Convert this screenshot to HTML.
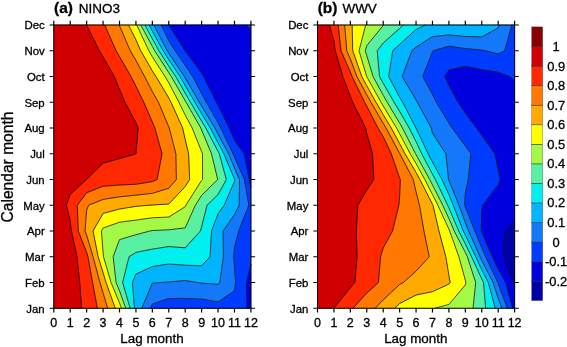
<!DOCTYPE html>
<html><head><meta charset="utf-8"><title>Lag correlation</title>
<style>
html,body{margin:0;padding:0;background:#fff;}
svg{display:block;}
text{font-family:"Liberation Sans",Arial,Helvetica,sans-serif;fill:#000;stroke:#000;stroke-width:0.3px;}
.xt{font-size:12.5px;}
.yt{font-size:11.4px;}
.cl{font-size:12.9px;}
.ti{font-size:13.5px;}
.tb{font-size:15.5px;font-weight:bold;}
.yl{font-size:15.6px;}
.lb{font-size:13.4px;}
</style></head><body>
<svg width="567" height="347" viewBox="0 0 567 347">
<rect width="567" height="347" fill="#fff"/>
<g><path d="M246.82,308.25 250.90,308.25 250.90,282.50 250.90,264.25 246.56,282.50 246.82,308.25ZM249.23,179.50 250.90,187.34 250.90,179.50 250.90,153.75 250.90,128.00 250.90,102.25 250.90,76.50 250.90,50.75 250.90,29.38 246.17,25.00 234.48,25.00 218.05,25.00 201.62,25.00 185.20,25.00 168.78,25.00 168.66,25.00 168.78,25.24 185.06,50.75 185.20,50.95 201.62,73.34 203.64,76.50 216.33,102.25 218.05,105.27 229.14,128.00 234.48,140.15 244.02,153.75 249.23,179.50Z" fill="#0000de" stroke="#0000de" stroke-width="0.6" fill-rule="evenodd"/>
<path d="M150.58,308.25 152.35,308.25 168.78,308.25 185.20,308.25 201.62,308.25 218.05,308.25 234.48,308.25 246.82,308.25 246.56,282.50 250.90,264.25 250.90,256.75 250.90,231.00 250.90,205.25 250.90,187.34 249.23,179.50 244.02,153.75 234.48,140.15 229.14,128.00 218.05,105.27 216.33,102.25 203.64,76.50 201.62,73.34 185.20,50.95 185.06,50.75 168.78,25.24 168.66,25.00 161.22,25.00 168.78,40.68 175.20,50.75 185.20,65.11 192.75,76.50 201.62,93.43 206.47,102.25 218.05,122.61 220.68,128.00 233.12,153.75 234.48,156.99 244.38,179.50 248.85,205.25 238.69,231.00 234.48,247.67 233.75,256.75 234.48,266.85 235.65,282.50 234.48,290.77 218.05,301.94 201.62,299.03 185.20,298.38 168.78,298.44 152.35,304.03 150.58,308.25ZM246.17,25.00 250.90,29.38 250.90,25.00 246.17,25.00Z" fill="#003cff" stroke="#003cff" stroke-width="0.6" fill-rule="evenodd"/>
<path d="M141.84,308.25 150.58,308.25 152.35,304.03 168.78,298.44 185.20,298.38 201.62,299.03 218.05,301.94 234.48,290.77 235.65,282.50 234.48,266.85 233.75,256.75 234.48,247.67 238.69,231.00 248.85,205.25 244.38,179.50 234.48,156.99 233.12,153.75 220.68,128.00 218.05,122.61 206.47,102.25 201.62,93.43 192.75,76.50 185.20,65.11 175.20,50.75 168.78,40.68 161.22,25.00 153.79,25.00 167.31,50.75 168.78,53.03 184.35,76.50 185.20,77.99 199.37,102.25 201.62,106.08 214.90,128.00 218.05,134.00 228.51,153.75 234.48,168.02 239.52,179.50 239.23,205.25 234.48,214.56 223.13,231.00 223.36,256.75 219.81,282.50 218.05,284.38 201.62,283.14 197.66,282.50 185.20,280.55 168.78,281.93 160.50,282.50 152.35,283.15 141.84,308.25Z" fill="#1478fa" stroke="#1478fa" stroke-width="0.6" fill-rule="evenodd"/>
<path d="M134.51,308.25 135.93,308.25 141.84,308.25 152.35,283.15 160.50,282.50 168.78,281.93 185.20,280.55 197.66,282.50 201.62,283.14 218.05,284.38 219.81,282.50 223.36,256.75 223.13,231.00 234.48,214.56 239.23,205.25 239.52,179.50 234.48,168.02 228.51,153.75 218.05,134.00 214.90,128.00 201.62,106.08 199.37,102.25 185.20,77.99 184.35,76.50 168.78,53.03 167.31,50.75 153.79,25.00 152.35,25.00 149.04,25.00 152.35,31.16 163.12,50.75 168.78,59.57 180.01,76.50 185.20,85.58 194.94,102.25 201.62,113.63 210.33,128.00 218.05,142.72 223.89,153.75 234.48,179.05 234.67,179.50 234.48,181.42 224.17,205.25 218.05,213.74 211.55,231.00 210.06,256.75 201.62,265.76 185.20,265.20 168.78,264.00 152.35,266.54 135.93,274.09 132.37,282.50 134.51,308.25Z" fill="#00b4ff" stroke="#00b4ff" stroke-width="0.6" fill-rule="evenodd"/>
<path d="M130.15,308.25 134.51,308.25 132.37,282.50 135.93,274.09 152.35,266.54 168.78,264.00 185.20,265.20 201.62,265.76 210.06,256.75 211.55,231.00 218.05,213.74 224.17,205.25 234.48,181.42 234.67,179.50 234.48,179.05 223.89,153.75 218.05,142.72 210.33,128.00 201.62,113.63 194.94,102.25 185.20,85.58 180.01,76.50 168.78,59.57 163.12,50.75 152.35,31.16 149.04,25.00 144.93,25.00 152.35,38.80 158.92,50.75 168.78,66.11 175.67,76.50 185.20,93.17 190.51,102.25 201.62,121.17 205.76,128.00 218.05,151.43 219.28,153.75 226.35,179.50 218.05,194.51 207.02,205.25 201.62,226.71 200.40,231.00 185.20,247.84 168.78,246.54 152.35,249.12 135.93,252.41 129.06,256.75 122.63,282.50 130.15,308.25Z" fill="#00f0f0" stroke="#00f0f0" stroke-width="0.6" fill-rule="evenodd"/>
<path d="M116.09,282.50 119.50,290.74 125.78,308.25 130.15,308.25 122.63,282.50 129.06,256.75 135.93,252.41 152.35,249.12 168.78,246.54 185.20,247.84 200.40,231.00 201.62,226.71 207.02,205.25 218.05,194.51 226.35,179.50 219.28,153.75 218.05,151.43 205.76,128.00 201.62,121.17 190.51,102.25 185.20,93.17 175.67,76.50 168.78,66.11 158.92,50.75 152.35,38.80 144.93,25.00 140.83,25.00 152.35,46.44 154.72,50.75 168.78,72.66 171.32,76.50 185.20,100.75 186.07,102.25 200.80,128.00 201.62,130.05 211.48,153.75 217.73,179.50 201.62,195.41 195.37,205.25 185.20,227.83 168.78,229.80 152.35,230.53 149.90,231.00 135.93,234.71 119.50,239.63 113.15,256.75 116.09,282.50Z" fill="#58f0a2" stroke="#58f0a2" stroke-width="0.6" fill-rule="evenodd"/>
<path d="M111.06,282.50 119.50,302.90 121.42,308.25 125.78,308.25 119.50,290.74 116.09,282.50 113.15,256.75 119.50,239.63 135.93,234.71 149.90,231.00 152.35,230.53 168.78,229.80 185.20,227.83 195.37,205.25 201.62,195.41 217.73,179.50 211.48,153.75 201.62,130.05 200.80,128.00 186.07,102.25 185.20,100.75 171.32,76.50 168.78,72.66 154.72,50.75 152.35,46.44 140.83,25.00 136.72,25.00 148.82,50.75 152.35,56.86 165.04,76.50 168.78,82.76 178.89,102.25 185.20,115.08 192.18,128.00 201.62,151.59 202.52,153.75 202.57,179.50 201.62,180.43 185.85,205.25 185.20,206.69 168.78,217.05 152.35,217.77 135.93,220.11 119.50,222.21 103.08,228.04 101.38,231.00 103.08,252.20 103.49,256.75 111.06,282.50Z" fill="#a4f846" stroke="#a4f846" stroke-width="0.6" fill-rule="evenodd"/>
<path d="M115.25,308.25 119.50,308.25 121.42,308.25 119.50,302.90 111.06,282.50 103.49,256.75 103.08,252.20 101.38,231.00 103.08,228.04 119.50,222.21 135.93,220.11 152.35,217.77 168.78,217.05 185.20,206.69 185.85,205.25 201.62,180.43 202.57,179.50 202.52,153.75 201.62,151.59 192.18,128.00 185.20,115.08 178.89,102.25 168.78,82.76 165.04,76.50 152.35,56.86 148.82,50.75 136.72,25.00 135.93,25.00 128.50,25.00 135.93,39.87 140.71,50.75 152.35,70.88 155.98,76.50 168.78,97.92 171.02,102.25 182.63,128.00 185.20,139.58 188.60,153.75 189.67,179.50 185.20,186.54 168.78,204.06 152.35,205.03 149.18,205.25 135.93,206.33 119.50,209.06 103.08,213.39 93.00,231.00 98.17,256.75 103.08,272.71 106.03,282.50 115.25,308.25Z" fill="#ffff00" stroke="#ffff00" stroke-width="0.6" fill-rule="evenodd"/>
<path d="M99.99,282.50 103.08,292.97 107.65,308.25 115.25,308.25 106.03,282.50 103.08,272.71 98.17,256.75 93.00,231.00 103.08,213.39 119.50,209.06 135.93,206.33 149.18,205.25 152.35,205.03 168.78,204.06 185.20,186.54 189.67,179.50 188.60,153.75 185.20,139.58 182.63,128.00 171.02,102.25 168.78,97.92 155.98,76.50 152.35,70.88 140.71,50.75 135.93,39.87 128.50,25.00 119.50,25.00 119.16,25.00 119.50,25.75 130.25,50.75 135.93,60.48 144.62,76.50 152.35,91.61 158.45,102.25 168.78,126.86 169.22,128.00 175.87,153.75 176.34,179.50 168.78,188.26 152.35,193.32 135.93,195.18 119.50,196.84 103.08,199.41 88.54,205.25 86.65,210.22 85.01,231.00 86.65,235.19 93.04,256.75 99.99,282.50Z" fill="#ffaa00" stroke="#ffaa00" stroke-width="0.6" fill-rule="evenodd"/>
<path d="M97.38,308.25 103.08,308.25 107.65,308.25 103.08,292.97 99.99,282.50 93.04,256.75 86.65,235.19 85.01,231.00 86.65,210.22 88.54,205.25 103.08,199.41 119.50,196.84 135.93,195.18 152.35,193.32 168.78,188.26 176.34,179.50 175.87,153.75 169.22,128.00 168.78,126.86 158.45,102.25 152.35,91.61 144.62,76.50 135.93,60.48 130.25,50.75 119.50,25.75 119.16,25.00 104.73,25.00 116.07,50.75 119.50,56.57 131.03,76.50 135.93,86.35 143.75,102.25 152.35,122.04 154.85,128.00 162.02,153.75 157.09,179.50 152.35,181.62 135.93,184.26 119.50,185.00 103.08,186.24 86.65,192.73 77.29,205.25 78.22,231.00 86.65,252.49 87.91,256.75 92.54,282.50 97.38,308.25Z" fill="#ff7800" stroke="#ff7800" stroke-width="0.6" fill-rule="evenodd"/>
<path d="M81.71,308.25 86.65,308.25 97.38,308.25 92.54,282.50 87.91,256.75 86.65,252.49 78.22,231.00 77.29,205.25 86.65,192.73 103.08,186.24 119.50,185.00 135.93,184.26 152.35,181.62 157.09,179.50 162.02,153.75 154.85,128.00 152.35,122.04 143.75,102.25 135.93,86.35 131.03,76.50 119.50,56.57 116.07,50.75 104.73,25.00 103.08,25.00 86.65,25.00 99.36,50.75 103.08,56.78 114.30,76.50 119.50,89.23 125.01,102.25 135.93,122.64 138.08,128.00 135.98,153.75 135.93,153.82 119.50,158.57 103.08,163.23 86.65,179.36 86.50,179.50 70.22,194.49 66.40,205.25 70.22,221.13 71.44,231.00 77.05,256.75 79.70,282.50 81.71,308.25Z" fill="#ff2800" stroke="#ff2800" stroke-width="0.6" fill-rule="evenodd"/>
<path d="M53.80,308.25 70.22,308.25 81.71,308.25 79.70,282.50 77.05,256.75 71.44,231.00 70.22,221.13 66.40,205.25 70.22,194.49 86.50,179.50 86.65,179.36 103.08,163.23 119.50,158.57 135.93,153.82 135.98,153.75 138.08,128.00 135.93,122.64 125.01,102.25 119.50,89.23 114.30,76.50 103.08,56.78 99.36,50.75 86.65,25.00 86.65,25.00 70.22,25.00 53.80,25.00 53.80,50.75 53.80,76.50 53.80,102.25 53.80,128.00 53.80,153.75 53.80,179.50 53.80,205.25 53.80,231.00 53.80,256.75 53.80,282.50 53.80,308.25Z" fill="#d00000" stroke="#d00000" stroke-width="0.6" fill-rule="evenodd"/>
<path d="M246.82,308.25 246.56,282.50 250.90,264.25M250.90,187.34 249.23,179.50 244.02,153.75 234.48,140.15 229.14,128.00 218.05,105.27 216.33,102.25 203.64,76.50 201.62,73.34 185.20,50.95 185.06,50.75 168.78,25.24 168.66,25.00M246.17,25.00 250.90,29.38M150.58,308.25 152.35,304.03 168.78,298.44 185.20,298.38 201.62,299.03 218.05,301.94 234.48,290.77 235.65,282.50 234.48,266.85 233.75,256.75 234.48,247.67 238.69,231.00 248.85,205.25 244.38,179.50 234.48,156.99 233.12,153.75 220.68,128.00 218.05,122.61 206.47,102.25 201.62,93.43 192.75,76.50 185.20,65.11 175.20,50.75 168.78,40.68 161.22,25.00M141.84,308.25 152.35,283.15 160.50,282.50 168.78,281.93 185.20,280.55 197.66,282.50 201.62,283.14 218.05,284.38 219.81,282.50 223.36,256.75 223.13,231.00 234.48,214.56 239.23,205.25 239.52,179.50 234.48,168.02 228.51,153.75 218.05,134.00 214.90,128.00 201.62,106.08 199.37,102.25 185.20,77.99 184.35,76.50 168.78,53.03 167.31,50.75 153.79,25.00M134.51,308.25 132.37,282.50 135.93,274.09 152.35,266.54 168.78,264.00 185.20,265.20 201.62,265.76 210.06,256.75 211.55,231.00 218.05,213.74 224.17,205.25 234.48,181.42 234.67,179.50 234.48,179.05 223.89,153.75 218.05,142.72 210.33,128.00 201.62,113.63 194.94,102.25 185.20,85.58 180.01,76.50 168.78,59.57 163.12,50.75 152.35,31.16 149.04,25.00M130.15,308.25 122.63,282.50 129.06,256.75 135.93,252.41 152.35,249.12 168.78,246.54 185.20,247.84 200.40,231.00 201.62,226.71 207.02,205.25 218.05,194.51 226.35,179.50 219.28,153.75 218.05,151.43 205.76,128.00 201.62,121.17 190.51,102.25 185.20,93.17 175.67,76.50 168.78,66.11 158.92,50.75 152.35,38.80 144.93,25.00M125.78,308.25 119.50,290.74 116.09,282.50 113.15,256.75 119.50,239.63 135.93,234.71 149.90,231.00 152.35,230.53 168.78,229.80 185.20,227.83 195.37,205.25 201.62,195.41 217.73,179.50 211.48,153.75 201.62,130.05 200.80,128.00 186.07,102.25 185.20,100.75 171.32,76.50 168.78,72.66 154.72,50.75 152.35,46.44 140.83,25.00M121.42,308.25 119.50,302.90 111.06,282.50 103.49,256.75 103.08,252.20 101.38,231.00 103.08,228.04 119.50,222.21 135.93,220.11 152.35,217.77 168.78,217.05 185.20,206.69 185.85,205.25 201.62,180.43 202.57,179.50 202.52,153.75 201.62,151.59 192.18,128.00 185.20,115.08 178.89,102.25 168.78,82.76 165.04,76.50 152.35,56.86 148.82,50.75 136.72,25.00M115.25,308.25 106.03,282.50 103.08,272.71 98.17,256.75 93.00,231.00 103.08,213.39 119.50,209.06 135.93,206.33 149.18,205.25 152.35,205.03 168.78,204.06 185.20,186.54 189.67,179.50 188.60,153.75 185.20,139.58 182.63,128.00 171.02,102.25 168.78,97.92 155.98,76.50 152.35,70.88 140.71,50.75 135.93,39.87 128.50,25.00M107.65,308.25 103.08,292.97 99.99,282.50 93.04,256.75 86.65,235.19 85.01,231.00 86.65,210.22 88.54,205.25 103.08,199.41 119.50,196.84 135.93,195.18 152.35,193.32 168.78,188.26 176.34,179.50 175.87,153.75 169.22,128.00 168.78,126.86 158.45,102.25 152.35,91.61 144.62,76.50 135.93,60.48 130.25,50.75 119.50,25.75 119.16,25.00M97.38,308.25 92.54,282.50 87.91,256.75 86.65,252.49 78.22,231.00 77.29,205.25 86.65,192.73 103.08,186.24 119.50,185.00 135.93,184.26 152.35,181.62 157.09,179.50 162.02,153.75 154.85,128.00 152.35,122.04 143.75,102.25 135.93,86.35 131.03,76.50 119.50,56.57 116.07,50.75 104.73,25.00M81.71,308.25 79.70,282.50 77.05,256.75 71.44,231.00 70.22,221.13 66.40,205.25 70.22,194.49 86.50,179.50 86.65,179.36 103.08,163.23 119.50,158.57 135.93,153.82 135.98,153.75 138.08,128.00 135.93,122.64 125.01,102.25 119.50,89.23 114.30,76.50 103.08,56.78 99.36,50.75 86.65,25.00" fill="none" stroke="#0a0a0a" stroke-width="0.75" stroke-linejoin="round"/></g>
<g><path d="M513.68,282.50 514.60,286.40 514.60,282.50 514.60,256.75 514.60,231.00 514.60,221.44 504.64,231.00 503.54,256.75 513.68,282.50Z" fill="#0000a8" stroke="#0000a8" stroke-width="0.6" fill-rule="evenodd"/>
<path d="M512.66,308.25 514.60,308.25 514.60,286.40 513.68,282.50 503.54,256.75 504.64,231.00 514.60,221.44 514.60,205.25 514.60,179.50 514.60,153.75 514.60,128.00 514.60,102.25 514.60,80.67 510.06,76.50 498.18,72.28 481.75,69.54 465.33,66.16 448.90,70.06 444.62,76.50 448.90,85.49 457.93,102.25 465.33,112.98 476.42,128.00 481.75,135.47 494.73,153.75 498.18,169.41 500.13,179.50 498.18,184.64 482.56,205.25 481.75,209.93 481.25,231.00 481.75,232.24 492.39,256.75 498.18,269.16 505.63,282.50 512.66,308.25Z" fill="#0000de" stroke="#0000de" stroke-width="0.6" fill-rule="evenodd"/>
<path d="M497.82,282.50 498.18,283.59 507.27,308.25 512.66,308.25 505.63,282.50 498.18,269.16 492.39,256.75 481.75,232.24 481.25,231.00 481.75,209.93 482.56,205.25 498.18,184.64 500.13,179.50 498.18,169.41 494.73,153.75 481.75,135.47 476.42,128.00 465.33,112.98 457.93,102.25 448.90,85.49 444.62,76.50 448.90,70.06 465.33,66.16 481.75,69.54 498.18,72.28 510.06,76.50 514.60,80.67 514.60,76.50 514.60,50.75 514.60,25.00 511.85,25.00 504.75,50.75 498.18,53.94 485.52,50.75 481.75,50.07 465.33,48.59 448.90,46.20 433.20,50.75 432.48,51.81 422.72,76.50 432.48,94.34 436.33,102.25 448.90,123.10 452.26,128.00 465.33,145.80 470.90,153.75 468.20,179.50 465.33,192.93 464.73,205.25 465.33,206.88 474.96,231.00 481.75,247.73 485.67,256.75 497.82,282.50Z" fill="#003cff" stroke="#003cff" stroke-width="0.6" fill-rule="evenodd"/>
<path d="M493.07,282.50 498.18,298.18 501.89,308.25 507.27,308.25 498.18,283.59 497.82,282.50 485.67,256.75 481.75,247.73 474.96,231.00 465.33,206.88 464.73,205.25 465.33,192.93 468.20,179.50 470.90,153.75 465.33,145.80 452.26,128.00 448.90,123.10 436.33,102.25 432.48,94.34 422.72,76.50 432.48,51.81 433.20,50.75 448.90,46.20 465.33,48.59 481.75,50.07 485.52,50.75 498.18,53.94 504.75,50.75 511.85,25.00 499.47,25.00 498.18,27.88 481.75,37.00 465.33,36.47 448.90,34.93 432.48,36.66 416.05,47.19 411.93,50.75 402.14,76.50 416.05,100.01 417.31,102.25 431.32,128.00 432.48,133.06 445.87,153.75 448.54,179.50 448.90,180.29 458.97,205.25 465.33,222.61 468.68,231.00 479.99,256.75 481.75,260.59 493.07,282.50Z" fill="#1478fa" stroke="#1478fa" stroke-width="0.6" fill-rule="evenodd"/>
<path d="M495.21,308.25 498.18,308.25 501.89,308.25 498.18,298.18 493.07,282.50 481.75,260.59 479.99,256.75 468.68,231.00 465.33,222.61 458.97,205.25 448.90,180.29 448.54,179.50 445.87,153.75 432.48,133.06 431.32,128.00 417.31,102.25 416.05,100.01 402.14,76.50 411.93,50.75 416.05,47.19 432.48,36.66 448.90,34.93 465.33,36.47 481.75,37.00 498.18,27.88 499.47,25.00 498.18,25.00 481.75,25.00 465.33,25.00 448.90,25.00 432.48,25.00 425.47,25.00 416.05,29.48 399.62,44.37 392.76,50.75 388.63,76.50 399.62,97.28 402.63,102.25 415.99,128.00 416.05,128.12 428.08,153.75 432.48,162.11 441.96,179.50 448.90,194.56 453.22,205.25 463.22,231.00 465.33,235.07 475.78,256.75 481.75,269.79 488.32,282.50 495.21,308.25Z" fill="#00b4ff" stroke="#00b4ff" stroke-width="0.6" fill-rule="evenodd"/>
<path d="M485.64,308.25 495.21,308.25 488.32,282.50 481.75,269.79 475.78,256.75 465.33,235.07 463.22,231.00 453.22,205.25 448.90,194.56 441.96,179.50 432.48,162.11 428.08,153.75 416.05,128.12 415.99,128.00 402.63,102.25 399.62,97.28 388.63,76.50 392.76,50.75 399.62,44.37 416.05,29.48 425.47,25.00 416.05,25.00 403.30,25.00 399.62,28.44 383.20,43.01 377.21,50.75 379.52,76.50 383.20,83.31 394.15,102.25 399.62,111.47 409.22,128.00 416.05,141.64 421.73,153.75 432.48,174.18 435.38,179.50 447.67,205.25 448.90,207.91 458.72,231.00 465.33,243.80 471.57,256.75 481.75,278.98 483.57,282.50 485.64,308.25Z" fill="#00f0f0" stroke="#00f0f0" stroke-width="0.6" fill-rule="evenodd"/>
<path d="M473.05,308.25 481.75,308.25 485.64,308.25 483.57,282.50 481.75,278.98 471.57,256.75 465.33,243.80 458.72,231.00 448.90,207.91 447.67,205.25 435.38,179.50 432.48,174.18 421.73,153.75 416.05,141.64 409.22,128.00 399.62,111.47 394.15,102.25 383.20,83.31 379.52,76.50 377.21,50.75 383.20,43.01 399.62,28.44 403.30,25.00 399.62,25.00 383.82,25.00 383.20,25.54 366.77,45.64 365.34,50.75 366.77,55.63 373.07,76.50 383.20,95.27 387.24,102.25 399.62,123.12 402.46,128.00 415.50,153.75 416.05,154.68 429.73,179.50 432.48,184.91 442.78,205.25 448.90,218.51 454.21,231.00 465.33,252.53 467.36,256.75 475.67,282.50 473.05,308.25Z" fill="#58f0a2" stroke="#58f0a2" stroke-width="0.6" fill-rule="evenodd"/>
<path d="M434.60,308.25 448.90,308.25 465.33,308.25 473.05,308.25 475.67,282.50 467.36,256.75 465.33,252.53 454.21,231.00 448.90,218.51 442.78,205.25 432.48,184.91 429.73,179.50 416.05,154.68 415.50,153.75 402.46,128.00 399.62,123.12 387.24,102.25 383.20,95.27 373.07,76.50 366.77,55.63 365.34,50.75 366.77,45.64 383.20,25.54 383.82,25.00 383.20,25.00 366.77,25.00 365.70,25.00 359.03,50.75 366.65,76.50 366.77,76.73 381.09,102.25 383.20,105.88 396.56,128.00 399.62,133.72 410.27,153.75 416.05,163.59 424.82,179.50 432.48,194.57 437.88,205.25 448.90,229.11 449.70,231.00 458.84,256.75 465.33,280.24 465.82,282.50 465.33,284.95 448.90,304.48 434.60,308.25Z" fill="#a4f846" stroke="#a4f846" stroke-width="0.6" fill-rule="evenodd"/>
<path d="M394.81,308.25 399.62,308.25 416.05,308.25 432.48,308.25 434.60,308.25 448.90,304.48 465.33,284.95 465.82,282.50 465.33,280.24 458.84,256.75 449.70,231.00 448.90,229.11 437.88,205.25 432.48,194.57 424.82,179.50 416.05,163.59 410.27,153.75 399.62,133.72 396.56,128.00 383.20,105.88 381.09,102.25 366.77,76.73 366.65,76.50 359.03,50.75 365.70,25.00 352.16,25.00 352.73,50.75 361.77,76.50 366.77,85.78 376.01,102.25 383.20,114.61 391.29,128.00 399.62,143.56 405.04,153.75 416.05,172.51 419.90,179.50 432.48,204.23 432.99,205.25 438.93,231.00 445.81,256.75 448.90,275.39 450.17,282.50 448.90,284.12 432.48,291.64 416.05,295.04 399.62,303.48 394.81,308.25Z" fill="#ffff00" stroke="#ffff00" stroke-width="0.6" fill-rule="evenodd"/>
<path d="M375.00,308.25 383.20,308.25 394.81,308.25 399.62,303.48 416.05,295.04 432.48,291.64 448.90,284.12 450.17,282.50 448.90,275.39 445.81,256.75 438.93,231.00 432.99,205.25 432.48,204.23 419.90,179.50 416.05,172.51 405.04,153.75 399.62,143.56 391.29,128.00 383.20,114.61 376.01,102.25 366.77,85.78 361.77,76.50 352.73,50.75 352.16,25.00 350.35,25.00 344.68,25.00 346.76,50.75 350.35,58.92 356.90,76.50 366.77,94.83 370.94,102.25 383.20,123.33 386.02,128.00 399.62,153.40 399.81,153.75 413.27,179.50 416.05,191.75 419.49,205.25 423.94,231.00 429.26,256.75 416.05,271.09 403.40,282.50 399.62,284.42 383.20,299.92 375.00,308.25Z" fill="#ffaa00" stroke="#ffaa00" stroke-width="0.6" fill-rule="evenodd"/>
<path d="M352.82,308.25 366.77,308.25 375.00,308.25 383.20,299.92 399.62,284.42 403.40,282.50 416.05,271.09 429.26,256.75 423.94,231.00 419.49,205.25 416.05,191.75 413.27,179.50 399.81,153.75 399.62,153.40 386.02,128.00 383.20,123.33 370.94,102.25 366.77,94.83 356.90,76.50 350.35,58.92 346.76,50.75 344.68,25.00 338.14,25.00 341.00,50.75 350.35,72.02 352.02,76.50 364.63,102.25 366.77,106.21 377.94,128.00 383.20,136.63 391.24,153.75 399.62,178.11 400.34,179.50 399.62,196.96 398.87,205.25 392.52,231.00 383.20,247.96 380.54,256.75 378.43,282.50 366.77,293.06 352.82,308.25Z" fill="#ff7800" stroke="#ff7800" stroke-width="0.6" fill-rule="evenodd"/>
<path d="M333.95,308.25 350.35,308.25 352.82,308.25 366.77,293.06 378.43,282.50 380.54,256.75 383.20,247.96 392.52,231.00 398.87,205.25 399.62,196.96 400.34,179.50 399.62,178.11 391.24,153.75 383.20,136.63 377.94,128.00 366.77,106.21 364.63,102.25 352.02,76.50 350.35,72.02 341.00,50.75 338.14,25.00 333.93,25.00 329.44,25.00 333.93,40.73 335.23,50.75 342.87,76.50 350.35,96.27 352.72,102.25 365.71,128.00 366.77,133.41 372.51,153.75 373.77,179.50 366.77,190.07 357.83,205.25 356.28,231.00 357.08,256.75 354.89,282.50 350.35,287.63 333.95,308.25Z" fill="#ff2800" stroke="#ff2800" stroke-width="0.6" fill-rule="evenodd"/>
<path d="M317.50,308.25 333.93,308.25 333.95,308.25 350.35,287.63 354.89,282.50 357.08,256.75 356.28,231.00 357.83,205.25 366.77,190.07 373.77,179.50 372.51,153.75 366.77,133.41 365.71,128.00 352.72,102.25 350.35,96.27 342.87,76.50 335.23,50.75 333.93,40.73 329.44,25.00 317.50,25.00 317.50,50.75 317.50,76.50 317.50,102.25 317.50,128.00 317.50,153.75 317.50,179.50 317.50,205.25 317.50,231.00 317.50,256.75 317.50,282.50 317.50,308.25Z" fill="#d00000" stroke="#d00000" stroke-width="0.6" fill-rule="evenodd"/>
<path d="M514.60,286.40 513.68,282.50 503.54,256.75 504.64,231.00 514.60,221.44M512.66,308.25 505.63,282.50 498.18,269.16 492.39,256.75 481.75,232.24 481.25,231.00 481.75,209.93 482.56,205.25 498.18,184.64 500.13,179.50 498.18,169.41 494.73,153.75 481.75,135.47 476.42,128.00 465.33,112.98 457.93,102.25 448.90,85.49 444.62,76.50 448.90,70.06 465.33,66.16 481.75,69.54 498.18,72.28 510.06,76.50 514.60,80.67M507.27,308.25 498.18,283.59 497.82,282.50 485.67,256.75 481.75,247.73 474.96,231.00 465.33,206.88 464.73,205.25 465.33,192.93 468.20,179.50 470.90,153.75 465.33,145.80 452.26,128.00 448.90,123.10 436.33,102.25 432.48,94.34 422.72,76.50 432.48,51.81 433.20,50.75 448.90,46.20 465.33,48.59 481.75,50.07 485.52,50.75 498.18,53.94 504.75,50.75 511.85,25.00M501.89,308.25 498.18,298.18 493.07,282.50 481.75,260.59 479.99,256.75 468.68,231.00 465.33,222.61 458.97,205.25 448.90,180.29 448.54,179.50 445.87,153.75 432.48,133.06 431.32,128.00 417.31,102.25 416.05,100.01 402.14,76.50 411.93,50.75 416.05,47.19 432.48,36.66 448.90,34.93 465.33,36.47 481.75,37.00 498.18,27.88 499.47,25.00M495.21,308.25 488.32,282.50 481.75,269.79 475.78,256.75 465.33,235.07 463.22,231.00 453.22,205.25 448.90,194.56 441.96,179.50 432.48,162.11 428.08,153.75 416.05,128.12 415.99,128.00 402.63,102.25 399.62,97.28 388.63,76.50 392.76,50.75 399.62,44.37 416.05,29.48 425.47,25.00M485.64,308.25 483.57,282.50 481.75,278.98 471.57,256.75 465.33,243.80 458.72,231.00 448.90,207.91 447.67,205.25 435.38,179.50 432.48,174.18 421.73,153.75 416.05,141.64 409.22,128.00 399.62,111.47 394.15,102.25 383.20,83.31 379.52,76.50 377.21,50.75 383.20,43.01 399.62,28.44 403.30,25.00M473.05,308.25 475.67,282.50 467.36,256.75 465.33,252.53 454.21,231.00 448.90,218.51 442.78,205.25 432.48,184.91 429.73,179.50 416.05,154.68 415.50,153.75 402.46,128.00 399.62,123.12 387.24,102.25 383.20,95.27 373.07,76.50 366.77,55.63 365.34,50.75 366.77,45.64 383.20,25.54 383.82,25.00M434.60,308.25 448.90,304.48 465.33,284.95 465.82,282.50 465.33,280.24 458.84,256.75 449.70,231.00 448.90,229.11 437.88,205.25 432.48,194.57 424.82,179.50 416.05,163.59 410.27,153.75 399.62,133.72 396.56,128.00 383.20,105.88 381.09,102.25 366.77,76.73 366.65,76.50 359.03,50.75 365.70,25.00M394.81,308.25 399.62,303.48 416.05,295.04 432.48,291.64 448.90,284.12 450.17,282.50 448.90,275.39 445.81,256.75 438.93,231.00 432.99,205.25 432.48,204.23 419.90,179.50 416.05,172.51 405.04,153.75 399.62,143.56 391.29,128.00 383.20,114.61 376.01,102.25 366.77,85.78 361.77,76.50 352.73,50.75 352.16,25.00M375.00,308.25 383.20,299.92 399.62,284.42 403.40,282.50 416.05,271.09 429.26,256.75 423.94,231.00 419.49,205.25 416.05,191.75 413.27,179.50 399.81,153.75 399.62,153.40 386.02,128.00 383.20,123.33 370.94,102.25 366.77,94.83 356.90,76.50 350.35,58.92 346.76,50.75 344.68,25.00M352.82,308.25 366.77,293.06 378.43,282.50 380.54,256.75 383.20,247.96 392.52,231.00 398.87,205.25 399.62,196.96 400.34,179.50 399.62,178.11 391.24,153.75 383.20,136.63 377.94,128.00 366.77,106.21 364.63,102.25 352.02,76.50 350.35,72.02 341.00,50.75 338.14,25.00M333.95,308.25 350.35,287.63 354.89,282.50 357.08,256.75 356.28,231.00 357.83,205.25 366.77,190.07 373.77,179.50 372.51,153.75 366.77,133.41 365.71,128.00 352.72,102.25 350.35,96.27 342.87,76.50 335.23,50.75 333.93,40.73 329.44,25.00" fill="none" stroke="#0a0a0a" stroke-width="0.75" stroke-linejoin="round"/></g>
<rect x="53.80" y="25.00" width="197.10" height="283.25" fill="none" stroke="#000" stroke-width="1"/>
<path d="M53.80,308.25v4.20M53.80,25.00v-4.20M70.22,308.25v4.20M70.22,25.00v-4.20M86.65,308.25v4.20M86.65,25.00v-4.20M103.08,308.25v4.20M103.08,25.00v-4.20M119.50,308.25v4.20M119.50,25.00v-4.20M135.93,308.25v4.20M135.93,25.00v-4.20M152.35,308.25v4.20M152.35,25.00v-4.20M168.78,308.25v4.20M168.78,25.00v-4.20M185.20,308.25v4.20M185.20,25.00v-4.20M201.62,308.25v4.20M201.62,25.00v-4.20M218.05,308.25v4.20M218.05,25.00v-4.20M234.48,308.25v4.20M234.48,25.00v-4.20M250.90,308.25v4.20M250.90,25.00v-4.20M53.80,308.25h-4.20M250.90,308.25h4.20M53.80,282.50h-4.20M250.90,282.50h4.20M53.80,256.75h-4.20M250.90,256.75h4.20M53.80,231.00h-4.20M250.90,231.00h4.20M53.80,205.25h-4.20M250.90,205.25h4.20M53.80,179.50h-4.20M250.90,179.50h4.20M53.80,153.75h-4.20M250.90,153.75h4.20M53.80,128.00h-4.20M250.90,128.00h4.20M53.80,102.25h-4.20M250.90,102.25h4.20M53.80,76.50h-4.20M250.90,76.50h4.20M53.80,50.75h-4.20M250.90,50.75h4.20M53.80,25.00h-4.20M250.90,25.00h4.20" stroke="#000" stroke-width="1.2" fill="none"/>
<text x="53.80" y="327.35" text-anchor="middle" class="xt">0</text>
<text x="70.22" y="327.35" text-anchor="middle" class="xt">1</text>
<text x="86.65" y="327.35" text-anchor="middle" class="xt">2</text>
<text x="103.08" y="327.35" text-anchor="middle" class="xt">3</text>
<text x="119.50" y="327.35" text-anchor="middle" class="xt">4</text>
<text x="135.93" y="327.35" text-anchor="middle" class="xt">5</text>
<text x="152.35" y="327.35" text-anchor="middle" class="xt">6</text>
<text x="168.78" y="327.35" text-anchor="middle" class="xt">7</text>
<text x="185.20" y="327.35" text-anchor="middle" class="xt">8</text>
<text x="201.62" y="327.35" text-anchor="middle" class="xt">9</text>
<text x="218.05" y="327.35" text-anchor="middle" class="xt">10</text>
<text x="234.48" y="327.35" text-anchor="middle" class="xt">11</text>
<text x="250.90" y="327.35" text-anchor="middle" class="xt">12</text>
<text x="44.70" y="312.55" text-anchor="end" class="yt">Jan</text>
<text x="44.70" y="286.80" text-anchor="end" class="yt">Feb</text>
<text x="44.70" y="261.05" text-anchor="end" class="yt">Mar</text>
<text x="44.70" y="235.30" text-anchor="end" class="yt">Apr</text>
<text x="44.70" y="209.55" text-anchor="end" class="yt">May</text>
<text x="44.70" y="183.80" text-anchor="end" class="yt">Jun</text>
<text x="44.70" y="158.05" text-anchor="end" class="yt">Jul</text>
<text x="44.70" y="132.30" text-anchor="end" class="yt">Aug</text>
<text x="44.70" y="106.55" text-anchor="end" class="yt">Sep</text>
<text x="44.70" y="80.80" text-anchor="end" class="yt">Oct</text>
<text x="44.70" y="55.05" text-anchor="end" class="yt">Nov</text>
<text x="44.70" y="29.30" text-anchor="end" class="yt">Dec</text>
<rect x="317.50" y="25.00" width="197.10" height="283.25" fill="none" stroke="#000" stroke-width="1"/>
<path d="M317.50,308.25v4.20M317.50,25.00v-4.20M333.93,308.25v4.20M333.93,25.00v-4.20M350.35,308.25v4.20M350.35,25.00v-4.20M366.77,308.25v4.20M366.77,25.00v-4.20M383.20,308.25v4.20M383.20,25.00v-4.20M399.62,308.25v4.20M399.62,25.00v-4.20M416.05,308.25v4.20M416.05,25.00v-4.20M432.48,308.25v4.20M432.48,25.00v-4.20M448.90,308.25v4.20M448.90,25.00v-4.20M465.33,308.25v4.20M465.33,25.00v-4.20M481.75,308.25v4.20M481.75,25.00v-4.20M498.18,308.25v4.20M498.18,25.00v-4.20M514.60,308.25v4.20M514.60,25.00v-4.20M317.50,308.25h-4.20M514.60,308.25h4.20M317.50,282.50h-4.20M514.60,282.50h4.20M317.50,256.75h-4.20M514.60,256.75h4.20M317.50,231.00h-4.20M514.60,231.00h4.20M317.50,205.25h-4.20M514.60,205.25h4.20M317.50,179.50h-4.20M514.60,179.50h4.20M317.50,153.75h-4.20M514.60,153.75h4.20M317.50,128.00h-4.20M514.60,128.00h4.20M317.50,102.25h-4.20M514.60,102.25h4.20M317.50,76.50h-4.20M514.60,76.50h4.20M317.50,50.75h-4.20M514.60,50.75h4.20M317.50,25.00h-4.20M514.60,25.00h4.20" stroke="#000" stroke-width="1.2" fill="none"/>
<text x="317.50" y="327.35" text-anchor="middle" class="xt">0</text>
<text x="333.93" y="327.35" text-anchor="middle" class="xt">1</text>
<text x="350.35" y="327.35" text-anchor="middle" class="xt">2</text>
<text x="366.77" y="327.35" text-anchor="middle" class="xt">3</text>
<text x="383.20" y="327.35" text-anchor="middle" class="xt">4</text>
<text x="399.62" y="327.35" text-anchor="middle" class="xt">5</text>
<text x="416.05" y="327.35" text-anchor="middle" class="xt">6</text>
<text x="432.48" y="327.35" text-anchor="middle" class="xt">7</text>
<text x="448.90" y="327.35" text-anchor="middle" class="xt">8</text>
<text x="465.33" y="327.35" text-anchor="middle" class="xt">9</text>
<text x="481.75" y="327.35" text-anchor="middle" class="xt">10</text>
<text x="498.18" y="327.35" text-anchor="middle" class="xt">11</text>
<text x="514.60" y="327.35" text-anchor="middle" class="xt">12</text>
<text x="308.40" y="312.55" text-anchor="end" class="yt">Jan</text>
<text x="308.40" y="286.80" text-anchor="end" class="yt">Feb</text>
<text x="308.40" y="261.05" text-anchor="end" class="yt">Mar</text>
<text x="308.40" y="235.30" text-anchor="end" class="yt">Apr</text>
<text x="308.40" y="209.55" text-anchor="end" class="yt">May</text>
<text x="308.40" y="183.80" text-anchor="end" class="yt">Jun</text>
<text x="308.40" y="158.05" text-anchor="end" class="yt">Jul</text>
<text x="308.40" y="132.30" text-anchor="end" class="yt">Aug</text>
<text x="308.40" y="106.55" text-anchor="end" class="yt">Sep</text>
<text x="308.40" y="80.80" text-anchor="end" class="yt">Oct</text>
<text x="308.40" y="55.05" text-anchor="end" class="yt">Nov</text>
<text x="308.40" y="29.30" text-anchor="end" class="yt">Dec</text>
<rect x="531.70" y="281.05" width="11.00" height="19.55" fill="#0000a8" stroke="#444" stroke-width="0.35"/>
<path d="M531.70,281.05H542.70" stroke="#222" stroke-width="0.7"/>
<rect x="531.70" y="261.50" width="11.00" height="19.55" fill="#0000de" stroke="#444" stroke-width="0.35"/>
<path d="M531.70,261.50H542.70" stroke="#222" stroke-width="0.7"/>
<rect x="531.70" y="241.95" width="11.00" height="19.55" fill="#003cff" stroke="#444" stroke-width="0.35"/>
<path d="M531.70,241.95H542.70" stroke="#222" stroke-width="0.7"/>
<rect x="531.70" y="222.40" width="11.00" height="19.55" fill="#1478fa" stroke="#444" stroke-width="0.35"/>
<path d="M531.70,222.40H542.70" stroke="#222" stroke-width="0.7"/>
<rect x="531.70" y="202.85" width="11.00" height="19.55" fill="#00b4ff" stroke="#444" stroke-width="0.35"/>
<path d="M531.70,202.85H542.70" stroke="#222" stroke-width="0.7"/>
<rect x="531.70" y="183.30" width="11.00" height="19.55" fill="#00f0f0" stroke="#444" stroke-width="0.35"/>
<path d="M531.70,183.30H542.70" stroke="#222" stroke-width="0.7"/>
<rect x="531.70" y="163.75" width="11.00" height="19.55" fill="#58f0a2" stroke="#444" stroke-width="0.35"/>
<path d="M531.70,163.75H542.70" stroke="#222" stroke-width="0.7"/>
<rect x="531.70" y="144.20" width="11.00" height="19.55" fill="#a4f846" stroke="#444" stroke-width="0.35"/>
<path d="M531.70,144.20H542.70" stroke="#222" stroke-width="0.7"/>
<rect x="531.70" y="124.65" width="11.00" height="19.55" fill="#ffff00" stroke="#444" stroke-width="0.35"/>
<path d="M531.70,124.65H542.70" stroke="#222" stroke-width="0.7"/>
<rect x="531.70" y="105.10" width="11.00" height="19.55" fill="#ffaa00" stroke="#444" stroke-width="0.35"/>
<path d="M531.70,105.10H542.70" stroke="#222" stroke-width="0.7"/>
<rect x="531.70" y="85.55" width="11.00" height="19.55" fill="#ff7800" stroke="#444" stroke-width="0.35"/>
<path d="M531.70,85.55H542.70" stroke="#222" stroke-width="0.7"/>
<rect x="531.70" y="66.00" width="11.00" height="19.55" fill="#ff2800" stroke="#444" stroke-width="0.35"/>
<path d="M531.70,66.00H542.70" stroke="#222" stroke-width="0.7"/>
<rect x="531.70" y="46.45" width="11.00" height="19.55" fill="#d00000" stroke="#444" stroke-width="0.35"/>
<path d="M531.70,46.45H542.70" stroke="#222" stroke-width="0.7"/>
<rect x="531.70" y="26.90" width="11.00" height="19.55" fill="#880000" stroke="#444" stroke-width="0.35"/>
<text x="556.20" y="285.65" text-anchor="middle" class="cl">-0.2</text>
<text x="556.20" y="266.10" text-anchor="middle" class="cl">-0.1</text>
<text x="556.20" y="246.55" text-anchor="middle" class="cl">0</text>
<text x="556.20" y="227.00" text-anchor="middle" class="cl">0.1</text>
<text x="556.20" y="207.45" text-anchor="middle" class="cl">0.2</text>
<text x="556.20" y="187.90" text-anchor="middle" class="cl">0.3</text>
<text x="556.20" y="168.35" text-anchor="middle" class="cl">0.4</text>
<text x="556.20" y="148.80" text-anchor="middle" class="cl">0.5</text>
<text x="556.20" y="129.25" text-anchor="middle" class="cl">0.6</text>
<text x="556.20" y="109.70" text-anchor="middle" class="cl">0.7</text>
<text x="556.20" y="90.15" text-anchor="middle" class="cl">0.8</text>
<text x="556.20" y="70.60" text-anchor="middle" class="cl">0.9</text>
<text x="556.20" y="51.05" text-anchor="middle" class="cl">1</text>
<text x="54" y="12.7" class="tb">(a)</text><text x="78.7" y="12.7" class="ti">NINO3</text>
<text x="317.7" y="12.7" class="tb">(b)</text><text x="342.4" y="12.7" class="ti">WWV</text>
<text x="152" y="343.2" text-anchor="middle" class="lb">Lag month</text>
<text x="415.8" y="343.2" text-anchor="middle" class="lb">Lag month</text>
<text transform="translate(12.5,167) rotate(-90)" text-anchor="middle" class="yl">Calendar month</text>
</svg></body></html>
